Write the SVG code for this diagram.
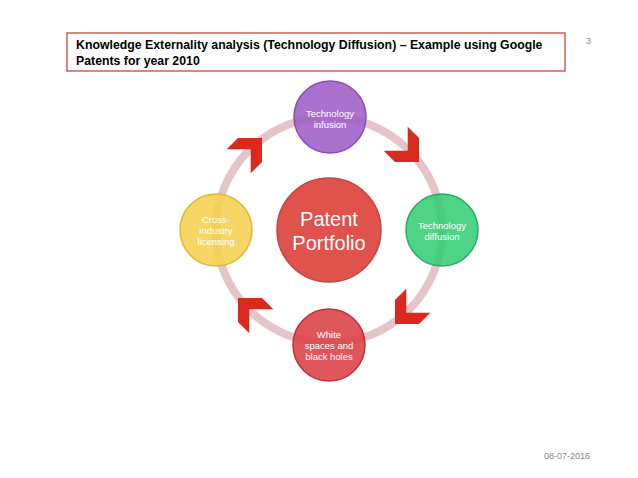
<svg xmlns="http://www.w3.org/2000/svg" width="638" height="478" viewBox="0 0 638 478">
<style>
.t{font-family:"Liberation Sans",Arial,sans-serif;fill:#fff;text-anchor:middle;font-size:9.5px}
.big{font-size:20px}
.n{stroke-width:1.5;fill-opacity:0.85}
.chev{fill:#d92a20}
</style>
<defs>
<polygon id="ch" points="-16,-17 0,-17 17,0 0,17 -16,17 1,0"/>
</defs>
<rect width="638" height="478" fill="#fff"/>
<g id="title">
<rect x="67" y="33" width="498" height="38" fill="#fff" stroke="#c0392b" stroke-width="1.2"/>
<text x="76" y="49" font-family="Liberation Sans,Arial,sans-serif" font-weight="bold" font-size="12.3" fill="#000">Knowledge Externality analysis (Technology Diffusion) – Example using Google</text>
<text x="76" y="65" font-family="Liberation Sans,Arial,sans-serif" font-weight="bold" font-size="12.3" fill="#000">Patents for year 2010</text>
</g>
<text x="586" y="44" font-family="Liberation Sans,Arial,sans-serif" font-size="9" fill="#888">3</text>
<text x="590" y="459" font-family="Liberation Sans,Arial,sans-serif" font-size="9" fill="#888" text-anchor="end">08-07-2016</text>
<g id="connectors">
<circle cx="329" cy="230" r="113" fill="none" stroke="#e6c5ca" stroke-width="8"/>
<use href="#ch" class="chev" transform="translate(407,150) rotate(45)"/>
<use href="#ch" class="chev" transform="translate(407,312) rotate(135)"/>
<use href="#ch" class="chev" transform="translate(250,310) rotate(225)"/>
<use href="#ch" class="chev" transform="translate(250,150) rotate(315)"/>
</g>
<g id="center">
<circle cx="329" cy="230" r="52" fill="#e0524c" stroke="#c84540" stroke-width="1.5"/>
<text class="t big" x="329" y="226">Patent</text>
<text class="t big" x="329" y="250">Portfolio</text>
</g>
<g id="top">
<circle class="n" cx="330" cy="117" r="36" fill="#9b59c6" stroke="#8a4db5"/>
<text class="t" x="330" y="117">Technology</text>
<text class="t" x="330" y="128">infusion</text>
</g>
<g id="right">
<circle class="n" cx="442" cy="230" r="36" fill="#2ecc71" stroke="#27ae60"/>
<text class="t" x="442" y="229">Technology</text>
<text class="t" x="442" y="240">diffusion</text>
</g>
<g id="bottom">
<circle class="n" cx="329" cy="345" r="36" fill="#d93a3e" stroke="#c0303a"/>
<text class="t" x="329" y="338">White</text>
<text class="t" x="329" y="349">spaces and</text>
<text class="t" x="329" y="360">black holes</text>
</g>
<g id="left">
<circle class="n" cx="216" cy="230" r="36" fill="#f5d04a" stroke="#e0b830"/>
<text class="t" x="216" y="223">Cross-</text>
<text class="t" x="216" y="234">industry</text>
<text class="t" x="216" y="245">licensing</text>
</g>
</svg>
